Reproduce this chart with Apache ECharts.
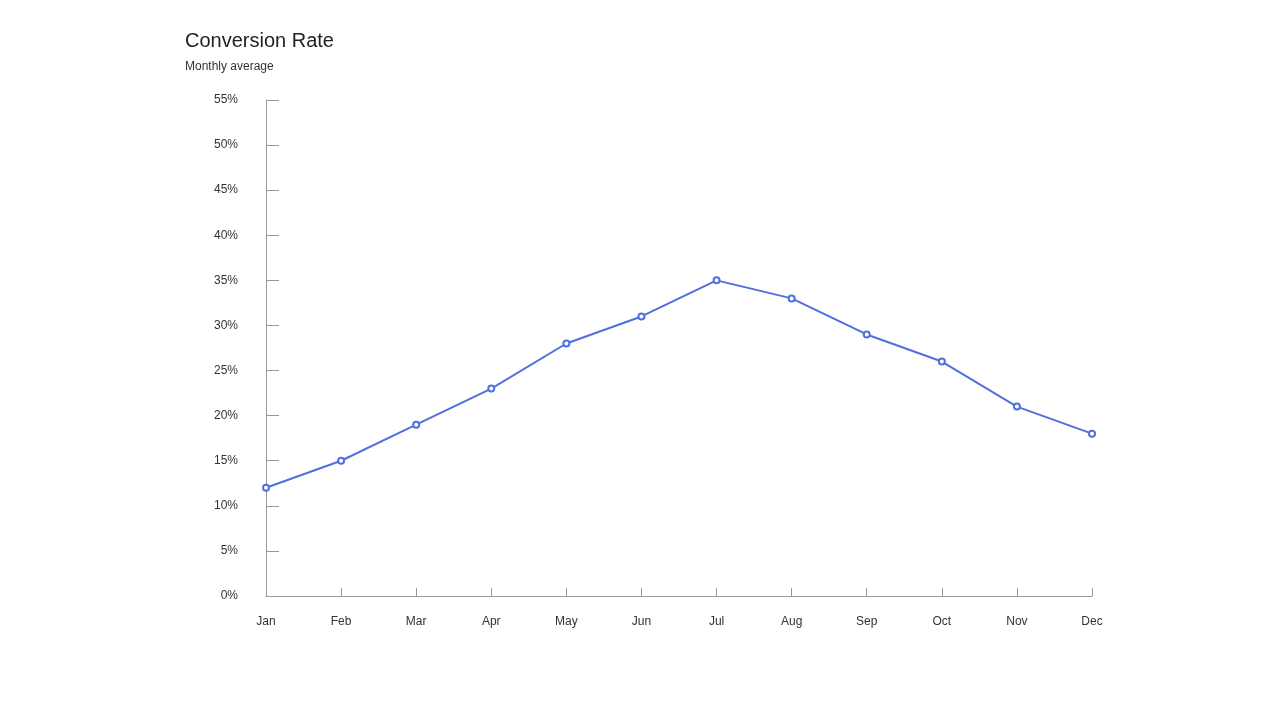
<!DOCTYPE html>
<html>
<head>
<meta charset="utf-8">
<title>Chart</title>
<script src="https://cdn.jsdelivr.net/npm/echarts@6/dist/echarts.min.js"></script>
<style>
  html, body { margin: 0; padding: 0; background: #fff; }
  #chart1 { width: 1280px; height: 720px; }
</style>
</head>
<body>
<div id="chart1"></div>
<script>
const categories = ['Jan', 'Feb', 'Mar', 'Apr', 'May', 'Jun', 'Jul', 'Aug', 'Sep', 'Oct', 'Nov', 'Dec'];
const rateValues = [12, 15, 19, 23, 28, 31, 35, 33, 29, 26, 21, 18];
const yTicks = [0, 5, 10, 15, 20, 25, 30, 35, 40, 45, 50, 55];

const getOptionChart1 = () => {
    return {
        title: {
            text: 'Conversion Rate',
            subtext: 'Monthly average',
            left: 180,
            top: 26,
            textStyle: { fontSize: 20, fontWeight: 'normal', color: '#222' },
            subtextStyle: { fontSize: 12, color: '#333' }
        },
        grid: { left: 266, right: 188, top: 100, bottom: 124 },
        xAxis: {
            type: 'category',
            data: categories,
            boundaryGap: false,
            axisLine: { lineStyle: { color: '#999' } },
            axisTick: { inside: true, length: 8, lineStyle: { color: '#999' } },
            axisLabel: { color: '#333', margin: 20 }
        },
        yAxis: {
            type: 'value',
            min: yTicks[0],
            max: yTicks[yTicks.length - 1],
            interval: 5,
            axisLine: { show: true, lineStyle: { color: '#999' } },
            axisTick: { show: true, inside: true, length: 13, lineStyle: { color: '#999' } },
            axisLabel: { formatter: '{value}%', color: '#333', margin: 28 },
            splitLine: { show: false }
        },
        series: [
            {
                type: 'line',
                data: rateValues,
                symbolSize: 6,
                lineStyle: { width: 2 }
            }
        ]
    };
};

const initCharts = () => {
    const chart1 = echarts.init(document.getElementById("chart1"));
    chart1.setOption(getOptionChart1());
};

window.addEventListener("load", () => {
    initCharts();
});
</script>
</body>
</html>
